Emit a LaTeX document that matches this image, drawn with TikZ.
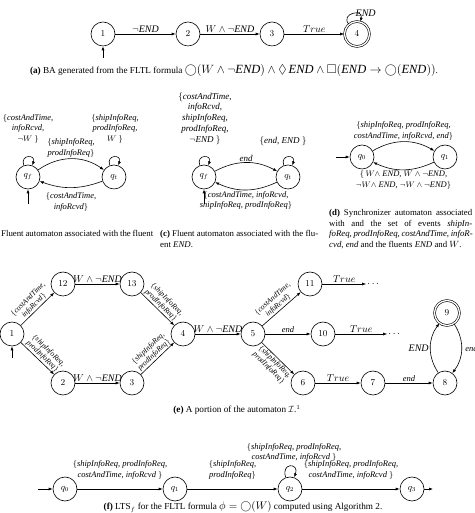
\documentclass[tikz,border=0pt]{standalone}
\usepackage{amsmath,amssymb}
\usepackage{fontspec}
\setmainfont{Liberation Serif}
\usetikzlibrary{arrows.meta}
\newcommand{\tEND}{\textit{END}}
\newcommand{\capmath}[1]{{\fontsize{12.5}{13}\selectfont#1}}
\tikzset{
 st/.style={circle,draw,minimum size=24pt,inner sep=0pt,line width=0.6pt,font=\fontsize{9}{10}\selectfont},
 acc/.style={st,double,double distance=1.3pt,minimum size=25pt},
 arr/.style={-{Latex[length=4pt,width=3pt]},line width=0.6pt},
 lbl/.style={font=\fontsize{8.5}{10.8}\selectfont\itshape,align=center,inner sep=1pt},
 lblc/.style={lbl,font=\fontsize{9}{10.8}\selectfont\itshape},
 slbl/.style={lbl,font=\fontsize{7.5}{8.5}\selectfont\itshape,inner sep=1pt},
 mlbl/.style={font=\fontsize{10}{11}\selectfont,inner sep=1.5pt},
 captxt/.style={font=\fontsize{8.8}{10.5}\selectfont,inner sep=0pt},
 captxtl/.style={font=\fontsize{9.2}{10.5}\selectfont,inner sep=0pt},
}
\begin{document}
\begin{tikzpicture}[x=1pt,y=1pt]
\useasboundingbox (0,0) rectangle (474,513);
\clip (0,0) rectangle (474,513);
% ---------- (a)
\node[st] (a1) at (103,479) {$1$};
\node[st] (a2) at (188,479) {$2$};
\node[st] (a3) at (272,479) {$3$};
\node[acc] (a4) at (357,479) {$4$};
\coordinate (ai) at (103,455);
\draw[arr] (ai) -- (a1);
\draw[arr] (a1) -- node[mlbl,above]{$\neg$\tEND} (a2);
\draw[arr] (a2) -- node[mlbl,above]{$W\wedge\neg$\tEND} (a3);
\draw[arr] (a3) -- node[mlbl,above]{$True$} (a4);
\draw[arr] (a4) to[loop,out=130,in=75,min distance=14pt] node[mlbl,pos=0.55,anchor=west]{\tEND} (a4);
\node[captxtl] (capa) at (234,442) {\textbf{(a)} BA generated from the FLTL formula \capmath{$\bigcirc(W\wedge\neg\tEND)\wedge\Diamond\,\tEND\wedge\Box(\tEND\rightarrow\bigcirc(\tEND))$}.};
% ---------- (b)
\node[st] (bqf) at (28,336) {$q_f$};
\node[st] (bqt) at (114,336) {$q_t$};
\coordinate (bi) at (28,309);
\draw[arr] (bi) -- (bqf);
\draw[arr] (bqf) to[loop,out=110,in=70,min distance=12pt] (bqf);
\draw[arr] (bqt) to[loop,out=110,in=70,min distance=12pt] (bqt);
\node[lbl] (bl1) at (28,384) {$\{$costAndTime,\\infoRcvd,\\$\neg W$ $\}$};
\node[lbl] (bl2) at (115,384) {$\{$shipInfoReq,\\prodInfoReq,\\$W$ $\}$};
\draw[arr] (bqf) to[bend left=35] node[lbl,above]{$\{$shipInfoReq,\\prodInfoReq$\}$} (bqt);
\draw[arr] (bqt) to[bend left=20] node[lbl,below=4pt]{$\{$costAndTime,\\infoRcvd$\}$} (bqf);
% ---------- (c)
\node[st] (cqf) at (204,336) {$q_f$};
\node[st] (cqt) at (288,336) {$q_t$};
\coordinate (ci) at (204,309);
\draw[arr] (ci) -- (cqf);
\draw[arr] (cqf) to[loop,out=110,in=70,min distance=12pt] (cqf);
\draw[arr] (cqt) to[loop,out=110,in=70,min distance=12pt] (cqt);
\node[lblc] (cl1) at (205,394.5) {$\{$costAndTime,\\infoRcvd,\\shipInfoReq,\\prodInfoReq,\\$\neg$\tEND\ $\}$};
\node[lblc] (cl2) at (283,372) {$\{$end, \tEND\ $\}$};
\draw[arr] (cqf) to[bend left=28] node[lblc,above]{end} (cqt);
\draw[arr] (cqt) to[bend left=25] node[lbl,below]{$\{$costAndTime, infoRcvd,\\shipInfoReq, prodInfoReq$\}$} (cqf);
% ---------- (d)
\node[st] (dq0) at (362,356) {$q_0$};
\node[st] (dq1) at (445,356) {$q_1$};
\coordinate (di) at (336,356);
\draw[arr] (di) -- (dq0);
\draw[arr] (dq0) to[bend left=30] node[lbl,above]{$\{$shipInfoReq, prodInfoReq,\\costAndTime, infoRcvd, end$\}$} (dq1);
\draw[arr] (dq1) to[bend left=25] node[lbl,below]{$\{\,W\wedge$ \tEND, $W\wedge\neg$\tEND,\\$\neg W\wedge$ \tEND, $\neg W\wedge\neg$\tEND$\}$} (dq0);
% ---------- captions b c d
\node[captxt,anchor=base west] (capb) at (1,276) {\makebox[152pt][s]{Fluent automaton associated with the fluent}};
\node[captxt,anchor=base west] (capc1) at (160,276) {\makebox[158pt][s]{\textbf{(c)} Fluent automaton associated with the flu-}};
\node[captxt,anchor=base west] (capc2) at (160,265.5) {ent \textit{END}.};
\node[captxt,anchor=base west] (capd1) at (329,297) {\makebox[143pt][s]{\textbf{(d)} Synchronizer automaton associated}};
\node[captxt,anchor=base west] (capd2) at (329,286.5) {\makebox[143pt][s]{with and the set of events \textit{shipIn-}}};
\node[captxt,anchor=base west] (capd3) at (329,276) {\makebox[143pt][s]{\textit{foReq}, \textit{prodInfoReq}, \textit{costAndTime}, \textit{infoR-}}};
\node[captxt,anchor=base west] (capd4) at (329,265.5) {\textit{cvd}, \textit{end} and the fluents \textit{END} and $W$.};
% ---------- (e)
\node[st] (e1) at (12,179) {$1$};
\node[st] (e12) at (63,229) {$12$};
\node[st] (e13) at (132,229) {$13$};
\node[st] (e4) at (183,179) {$4$};
\node[st] (e2) at (63,130) {$2$};
\node[st] (e3) at (132,130) {$3$};
\node[st] (e5) at (253,179) {$5$};
\node[st] (e11) at (310,229) {$11$};
\node[st] (e10) at (323,179) {$10$};
\node[st] (e6) at (303,130) {$6$};
\node[st] (e7) at (373,130) {$7$};
\node[st] (e8) at (445,130) {$8$};
\node[acc] (e9) at (447,200) {$9$};
\node[inner sep=1pt] (d11) at (374,229) {$\cdots$};
\node[inner sep=1pt] (d10) at (395,179) {$\cdots$};
\coordinate (ei) at (12,155);
\draw[arr] (ei) -- (e1);
\draw[arr] (e1) -- node[slbl,sloped,above]{$\{$costAndTime,\\infoRcvd$\}$} (e12);
\draw[arr] (e1) -- node[slbl,sloped,above,pos=0.55]{$\{$shipInfoReq,\\prodInfoReq$\}$} (e2);
\draw[arr] (e12) -- node[mlbl,above]{$W\wedge\neg$\tEND} (e13);
\draw[arr] (e13) -- node[slbl,sloped,above]{$\{$shipInfoReq,\\prodInfoReq$\}$} (e4);
\draw[arr] (e2) -- node[mlbl,above]{$W\wedge\neg$\tEND} (e3);
\draw[arr] (e3) -- node[slbl,sloped,above]{$\{$shipInfoReq,\\prodInfoReq$\}$} (e4);
\draw[arr] (e4) -- node[mlbl,above]{$W\wedge\neg$\tEND} (e5);
\draw[arr] (e5) -- node[slbl,sloped,above]{$\{$costAndTime,\\infoRcvd$\}$} (e11);
\draw[arr] (e5) -- node[lbl,above]{end} (e10);
\draw[arr] (e5) -- node[slbl,sloped,below]{$\{$shipInfoReq,\\prodInfoReq$\}$} (e6);
\draw[arr] (e11) -- node[mlbl,above]{$True$} (d11);
\draw[arr] (e10) -- node[mlbl,above]{$True$} (d10);
\draw[arr] (e6) -- node[mlbl,above]{$True$} (e7);
\draw[arr] (e7) -- node[lbl,above]{end} (e8);
\draw[arr] (e8) to[bend left=35] node[mlbl,left]{\tEND} (e9);
\draw[arr] (e9) to[bend left=35] node[lbl,right=2.5pt]{end} (e8);
\node[captxtl] (cape) at (237,103) {\textbf{(e)} A portion of the automaton $\mathcal{I}$.$^1$};
% ---------- (f)
\node[st] (f0) at (65,24) {$q_0$};
\node[st] (f1) at (175,24) {$q_1$};
\node[st] (f2) at (290,24) {$q_2$};
\node[st] (f3) at (412,24) {$q_3$};
\coordinate (fi) at (38,24);
\coordinate (fo) at (433,24);
\draw[arr] (fi) -- (f0);
\draw[arr] (f3) -- (fo);
\draw[arr] (f0) -- node[lbl,above=8pt]{$\{$shipInfoReq, prodInfoReq,\\costAndTime, infoRcvd $\}$} (f1);
\draw[arr] (f1) -- node[lbl,above=8pt]{$\{$shipInfoReq,\\prodInfoReq$\}$} (f2);
\draw[arr] (f2) to[loop,out=110,in=70,min distance=16pt] node[lbl,above=3pt,xshift=4pt]{$\{$shipInfoReq, prodInfoReq,\\costAndTime, infoRcvd $\}$} (f2);
\draw[arr] (f2) -- node[lbl,above=8pt]{$\{$shipInfoReq, prodInfoReq,\\costAndTime, infoRcvd $\}$} (f3);
\node[captxtl,anchor=base] (capf) at (243,3) {\textbf{(f)} LTS$_f$ for the FLTL formula {\fontsize{11}{12}\selectfont$\phi=\bigcirc(W)$} computed using Algorithm 2.};
\end{tikzpicture}
\end{document}
